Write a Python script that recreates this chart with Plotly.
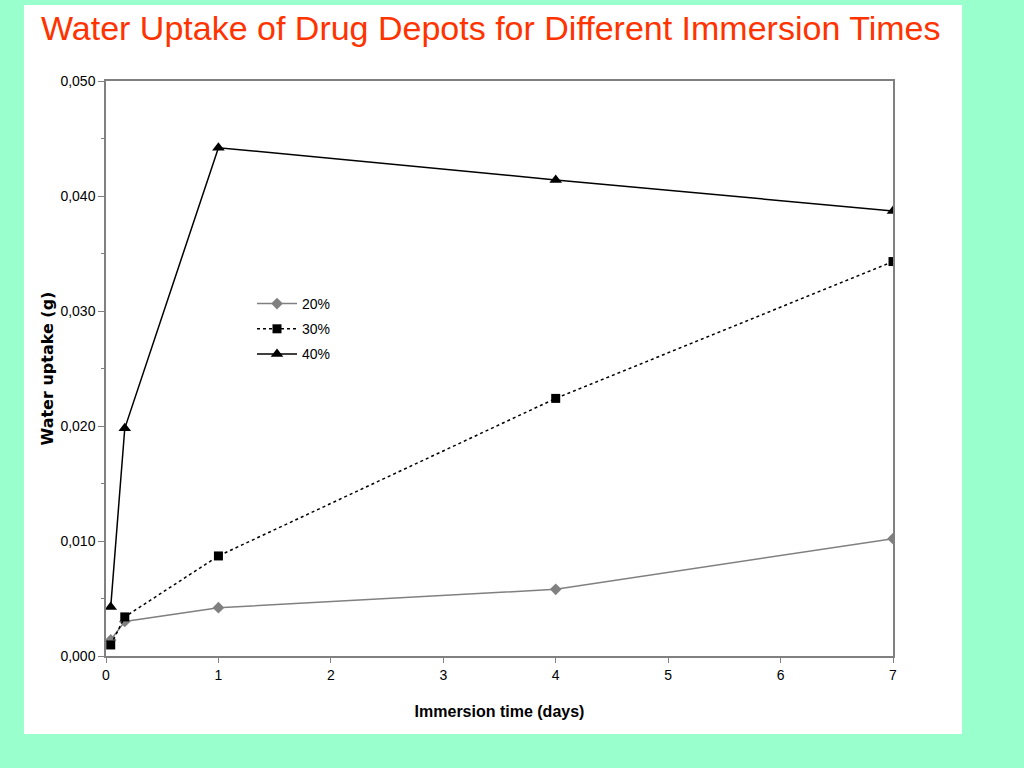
import plotly.graph_objects as go

days = [0.042, 0.167, 1, 4, 7]
uptake_20 = [0.0014, 0.0030, 0.0042, 0.0058, 0.0102]
uptake_30 = [0.00096, 0.0034, 0.0087, 0.0224, 0.0343]
uptake_40 = [0.00426, 0.0198, 0.0442, 0.0414, 0.0387]

x_ticks = [0, 1, 2, 3, 4, 5, 6, 7]
y_ticks = [0, 0.01, 0.02, 0.03, 0.04, 0.05]

L, R, T, B = 106, 893, 81, 656
W, H = R - L, B - T

def px(x):
    return (x - L) / W

def py(y):
    return (B - y) / H

fig = go.Figure()
fig.add_trace(go.Scatter(x=days, y=uptake_20, name="20%", mode="lines+markers", legendgroup="a",
                         line=dict(color="#808080", width=1.5),
                         marker=dict(symbol="diamond", size=9, color="#808080")))
fig.add_trace(go.Scatter(x=days, y=uptake_30, name="30%", mode="lines+markers", legendgroup="b",
                         line=dict(color="black", width=1.5, dash="dot"),
                         marker=dict(symbol="square", size=9, color="black")))
fig.add_trace(go.Scatter(x=days, y=uptake_40, name="40%", mode="lines+markers", legendgroup="c",
                         line=dict(color="black", width=1.5),
                         marker=dict(symbol="triangle-up", size=11, color="black")))

fig.add_shape(type="rect", xref="paper", yref="paper",
              x0=px(24), x1=px(962), y0=py(734), y1=py(5),
              fillcolor="white", line=dict(width=0), layer="below")

fig.add_annotation(text="Water Uptake of Drug Depots for Different Immersion Times",
                   xref="paper", yref="paper", x=px(39), y=py(28),
                   xanchor="left", yanchor="middle", showarrow=False,
                   font=dict(family="Liberation Sans, Arial", size=34, color="#FF3300"))

fig.update_layout(
    width=1024, height=768,
    margin=dict(l=L, r=1024 - R, t=T, b=768 - B),
    paper_bgcolor="#99FFCC", plot_bgcolor="white",
    separators=",.",
    showlegend=True,
    legend=dict(x=px(252), y=py(288), xanchor="left", yanchor="top",
                bgcolor="rgba(0,0,0,0)", itemwidth=40, tracegroupgap=4,
                font=dict(family="Liberation Sans, Arial", size=14, color="black")),
    xaxis=dict(range=[0, 7], tickvals=x_ticks, showgrid=False, zeroline=False,
               showline=True, linecolor="#808080", linewidth=1.5, mirror=True,
               ticks="outside", ticklen=5, tickcolor="#808080",
               tickfont=dict(family="Liberation Sans, Arial", size=14, color="black"),
               title=dict(text="<b>Immersion time (days)</b>", standoff=24,
                          font=dict(family="Liberation Sans, Arial", size=16, color="black"))),
    yaxis=dict(range=[0, 0.05], tickvals=y_ticks, tickformat=".3f", showgrid=False, zeroline=False,
               showline=True, linecolor="#808080", linewidth=1.5, mirror=True,
               ticks="outside", ticklen=6, tickcolor="#808080",
               minor=dict(dtick=0.005, ticks="outside", ticklen=3, tickcolor="#808080"),
               tickfont=dict(family="Liberation Sans, Arial", size=14, color="black"),
               title=dict(text="<b>Water uptake (g)</b>", standoff=3,
                          font=dict(family="DejaVu Sans", size=16, color="black"))),
)

fig.write_html("out.html")
